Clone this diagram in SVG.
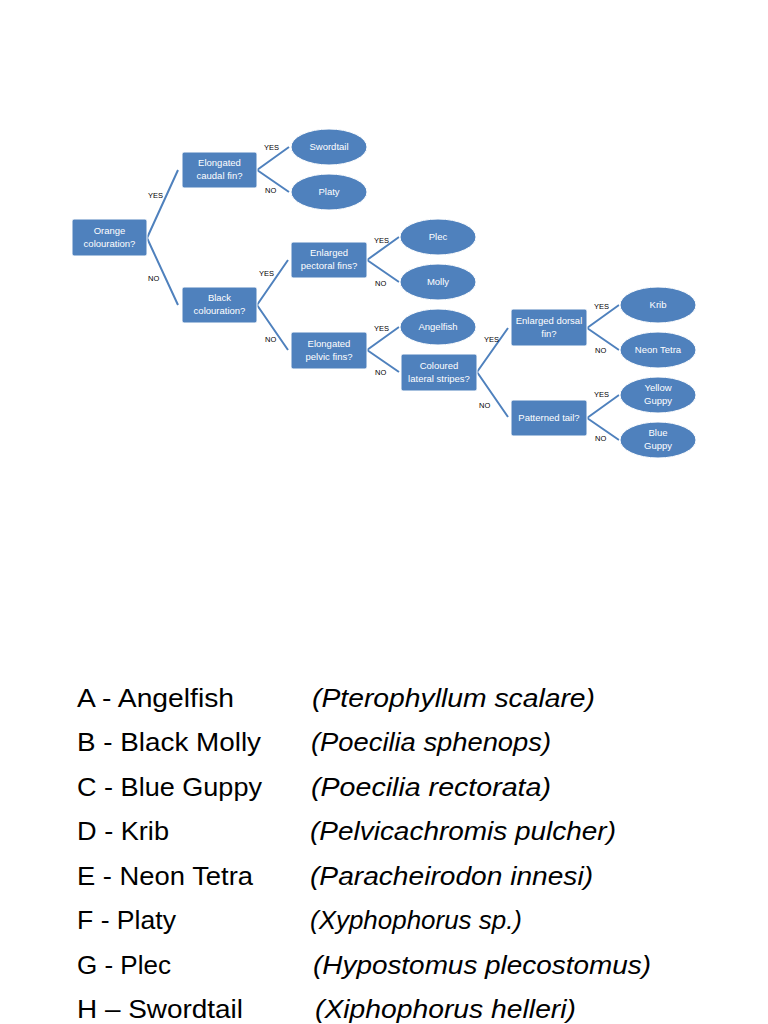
<svg xmlns="http://www.w3.org/2000/svg" width="768" height="1024" viewBox="0 0 768 1024">
<style>
.b{fill:#4f81bd;stroke:#ffffff;stroke-width:1}
.t{font-family:"Liberation Sans",Arial,sans-serif;font-size:9.5px;fill:#fff;text-anchor:middle}
.l{font-family:"Liberation Sans",Arial,sans-serif;font-size:7.5px;fill:#000}
.c{stroke:#4f81bd;stroke-width:2;fill:none}
.k{font-family:"Liberation Sans",Arial,sans-serif;font-size:25px;fill:#000}
.i{font-style:italic}
</style>
<rect width="768" height="1024" fill="#fff"/>
<g id="connectors">
<path class="c" d="M147,238L178,170M147,238L178,305M257,170L289,147M257,170L289,192M257,305L288,260M257,305L288,350M367,260L399,237M367,260L399,282M367,350L399,327M367,350L399,372M477,372L508,328M477,372L508,417M587,328L619,305M587,328L619,350M587,418L619,395M587,418L619,440"/>
</g>
<g id="labels">
<text class="l" x="148" y="198">YES</text><text class="l" x="148" y="281">NO</text>
<text class="l" x="264" y="150">YES</text><text class="l" x="265" y="193">NO</text>
<text class="l" x="259" y="276">YES</text><text class="l" x="265" y="342">NO</text>
<text class="l" x="374" y="243">YES</text><text class="l" x="375" y="286">NO</text>
<text class="l" x="374" y="331">YES</text><text class="l" x="375" y="375">NO</text>
<text class="l" x="484" y="342">YES</text><text class="l" x="479" y="408">NO</text>
<text class="l" x="594" y="309">YES</text><text class="l" x="595" y="353">NO</text>
<text class="l" x="594" y="397">YES</text><text class="l" x="595" y="441">NO</text>
</g>
<g id="n1"><rect class="b" x="72" y="219" width="75" height="37" rx="2"/><text class="t" x="109.5" y="234">Orange</text><text class="t" x="109.5" y="247">colouration?</text></g>
<g id="n2"><rect class="b" x="182" y="152" width="75" height="36" rx="2"/><text class="t" x="219.5" y="166">Elongated</text><text class="t" x="219.5" y="179">caudal fin?</text></g>
<g id="n3"><rect class="b" x="182" y="287" width="75" height="36" rx="2"/><text class="t" x="219.5" y="301">Black</text><text class="t" x="219.5" y="314">colouration?</text></g>
<g id="n4"><rect class="b" x="291" y="242" width="76" height="36" rx="2"/><text class="t" x="329" y="256">Enlarged</text><text class="t" x="329" y="269">pectoral fins?</text></g>
<g id="n5"><rect class="b" x="291" y="332" width="76" height="37" rx="2"/><text class="t" x="329" y="347">Elongated</text><text class="t" x="329" y="360">pelvic fins?</text></g>
<g id="n6"><rect class="b" x="401" y="354" width="76" height="37" rx="2"/><text class="t" x="439" y="369">Coloured</text><text class="t" x="439" y="382">lateral stripes?</text></g>
<g id="n7"><rect class="b" x="511" y="309" width="76" height="37" rx="2"/><text class="t" x="549" y="324">Enlarged dorsal</text><text class="t" x="549" y="337">fin?</text></g>
<g id="n8"><rect class="b" x="511" y="400" width="76" height="36" rx="2"/><text class="t" x="549" y="421">Patterned tail?</text></g>
<g id="e1"><ellipse class="b" cx="329" cy="147" rx="38" ry="18"/><text class="t" x="329" y="150">Swordtail</text></g>
<g id="e2"><ellipse class="b" cx="329" cy="192" rx="38" ry="18"/><text class="t" x="329" y="195">Platy</text></g>
<g id="e3"><ellipse class="b" cx="438" cy="237" rx="38" ry="18"/><text class="t" x="438" y="240">Plec</text></g>
<g id="e4"><ellipse class="b" cx="438" cy="282" rx="38" ry="18"/><text class="t" x="438" y="285">Molly</text></g>
<g id="e5"><ellipse class="b" cx="438" cy="327" rx="38" ry="18"/><text class="t" x="438" y="330">Angelfish</text></g>
<g id="e6"><ellipse class="b" cx="658" cy="305" rx="38" ry="18"/><text class="t" x="658" y="308">Krib</text></g>
<g id="e7"><ellipse class="b" cx="658" cy="350" rx="38" ry="18"/><text class="t" x="658" y="353">Neon Tetra</text></g>
<g id="e8"><ellipse class="b" cx="658" cy="395" rx="38" ry="18"/><text class="t" x="658" y="391">Yellow</text><text class="t" x="658" y="404">Guppy</text></g>
<g id="e9"><ellipse class="b" cx="658" cy="440" rx="38" ry="18"/><text class="t" x="658" y="436">Blue</text><text class="t" x="658" y="449">Guppy</text></g>
<g id="key">
<text class="k" x="77" y="707" textLength="157" lengthAdjust="spacingAndGlyphs">A - Angelfish</text>
<text class="k i" x="312" y="707" textLength="283" lengthAdjust="spacingAndGlyphs">(Pterophyllum scalare)</text>
<text class="k" x="77" y="751" textLength="184" lengthAdjust="spacingAndGlyphs">B - Black Molly</text>
<text class="k i" x="311" y="751" textLength="240" lengthAdjust="spacingAndGlyphs">(Poecilia sphenops)</text>
<text class="k" x="77" y="796" textLength="185" lengthAdjust="spacingAndGlyphs">C - Blue Guppy</text>
<text class="k i" x="311" y="796" textLength="240" lengthAdjust="spacingAndGlyphs">(Poecilia rectorata)</text>
<text class="k" x="77" y="840" textLength="92" lengthAdjust="spacingAndGlyphs">D - Krib</text>
<text class="k i" x="310" y="840" textLength="306" lengthAdjust="spacingAndGlyphs">(Pelvicachromis pulcher)</text>
<text class="k" x="77" y="885" textLength="176" lengthAdjust="spacingAndGlyphs">E - Neon Tetra</text>
<text class="k i" x="310" y="885" textLength="283" lengthAdjust="spacingAndGlyphs">(Paracheirodon innesi)</text>
<text class="k" x="77" y="929" textLength="99" lengthAdjust="spacingAndGlyphs">F - Platy</text>
<text class="k i" x="310" y="929" textLength="212" lengthAdjust="spacingAndGlyphs">(Xyphophorus sp.)</text>
<text class="k" x="77" y="974" textLength="94" lengthAdjust="spacingAndGlyphs">G - Plec</text>
<text class="k i" x="313" y="974" textLength="338" lengthAdjust="spacingAndGlyphs">(Hypostomus plecostomus)</text>
<text class="k" x="77" y="1018" textLength="166" lengthAdjust="spacingAndGlyphs">H – Swordtail</text>
<text class="k i" x="315" y="1018" textLength="261" lengthAdjust="spacingAndGlyphs">(Xiphophorus helleri)</text>
</g>
</svg>
